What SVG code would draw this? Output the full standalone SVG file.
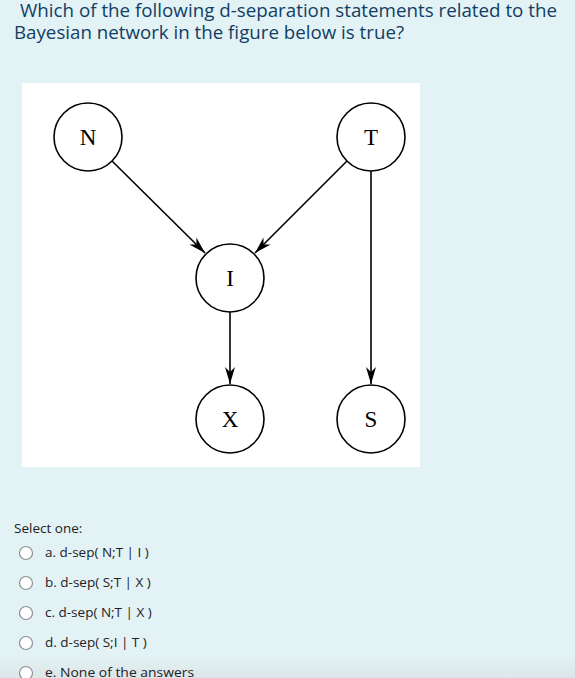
<svg xmlns="http://www.w3.org/2000/svg" width="575" height="678" viewBox="0 0 575 678">
<defs>
<style>
.q{font-family:"Open Sans","Noto Sans",sans-serif;fill:#123e66;font-size:18px}
.o{font-family:"Open Sans","Noto Sans",sans-serif;fill:#1d2125;font-size:13.5px}
.n circle{fill:#fff;stroke:#000;stroke-width:1.6}
.n text{font-family:"Liberation Serif","DejaVu Serif",serif;font-size:23px;fill:#000;text-anchor:middle}
.e{stroke:#000;stroke-width:1.6;fill:none;marker-end:url(#ah)}
.r{fill:#fff;stroke:#8a9095;stroke-width:1.2}
</style>
<marker id="ah" markerUnits="userSpaceOnUse" markerWidth="20" markerHeight="12" viewBox="-18 -6 20 12" refX="0" refY="0" orient="auto">
<path d="M0,0 L-17,-5 L-12,0 L-17,5 Z" fill="#000"/>
</marker>
<linearGradient id="bg2" x1="0" y1="0" x2="0" y2="1">
<stop offset="0" stop-color="#e3f2f4"/>
<stop offset="1" stop-color="#dde6e9"/>
</linearGradient>
</defs>
<rect width="575" height="678" fill="#e3f2f4"/>
<rect x="0" y="655" width="575" height="23" fill="url(#bg2)"/>
<text class="q" x="20" y="17" textLength="537" lengthAdjust="spacingAndGlyphs">Which of the following d-separation statements related to the</text>
<text class="q" x="14" y="39" textLength="390" lengthAdjust="spacingAndGlyphs">Bayesian network in the figure below is true?</text>
<rect x="22" y="83" width="398" height="384" fill="#fff"/>
<g id="edges">
<line class="e" x1="112" y1="161" x2="205" y2="253"/>
<line class="e" x1="347" y1="161" x2="255" y2="253"/>
<line class="e" x1="230" y1="312" x2="230" y2="384"/>
<line class="e" x1="371" y1="171" x2="371" y2="384"/>
</g>
<g id="N" class="n"><circle cx="88" cy="137" r="34"/><text x="88" y="145">N</text></g>
<g id="T" class="n"><circle cx="371" cy="137" r="34"/><text x="371" y="145">T</text></g>
<g id="I" class="n"><circle cx="230" cy="278" r="34"/><text x="230" y="286">I</text></g>
<g id="X" class="n"><circle cx="230" cy="419" r="34"/><text x="230" y="427">X</text></g>
<g id="S" class="n"><circle cx="371" cy="419" r="34"/><text x="371" y="427">S</text></g>
<text class="o" x="14" y="533">Select one:</text>
<circle class="r" cx="26" cy="553" r="6.5"/><text class="o" x="45" y="557">a. d-sep( N;T | I )</text>
<circle class="r" cx="26" cy="583" r="6.5"/><text class="o" x="45" y="587">b. d-sep( S;T | X )</text>
<circle class="r" cx="26" cy="613" r="6.5"/><text class="o" x="45" y="617">c. d-sep( N;T | X )</text>
<circle class="r" cx="26" cy="643" r="6.5"/><text class="o" x="45" y="647">d. d-sep( S;I | T )</text>
<circle class="r" cx="26" cy="673" r="6.5"/><text class="o" x="45" y="677" textLength="149" lengthAdjust="spacingAndGlyphs">e. None of the answers</text>
</svg>
